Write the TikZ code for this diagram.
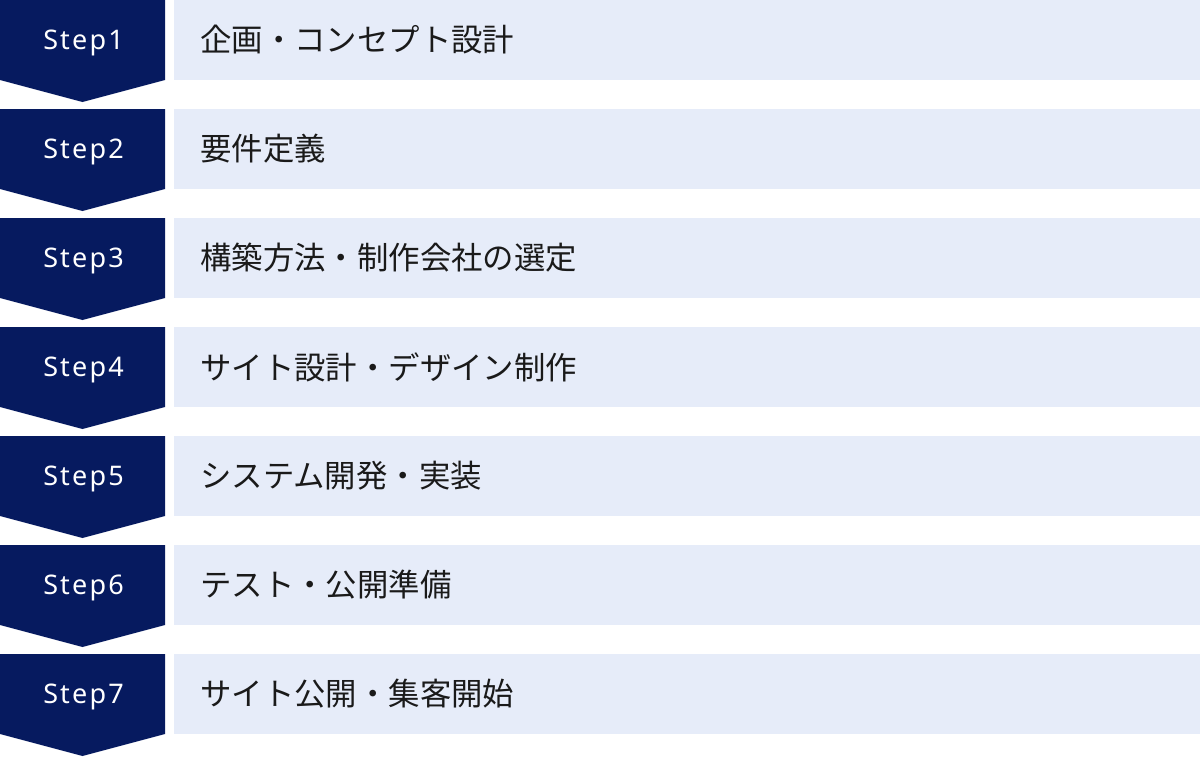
\documentclass[tikz,border=0pt]{standalone}
\usepackage{fontspec}
\newfontfamily\jpfont{Noto Sans CJK JP}
\newfontfamily\stepfont[LetterSpace=8]{Noto Sans}
\definecolor{navy}{HTML}{061A5F}
\definecolor{pale}{HTML}{E6ECF9}
\definecolor{ink}{HTML}{1A1A1A}
\tikzset{
  chev/.style={fill=navy, draw=none},
  band/.style={fill=pale, draw=none},
  steplabel/.style={text=white, font=\stepfont\fontsize{27}{30}\selectfont, inner sep=0pt, anchor=base},
  tasklabel/.style={text=ink, font=\jpfont\fontsize{31.4}{36}\selectfont, inner sep=0pt, anchor=west},
}
\begin{document}
\begin{tikzpicture}[x=1pt,y=-1pt]
\useasboundingbox (0,0) rectangle (1200,756);
\foreach \i/\t in {1/企画・コンセプト設計,2/要件定義,3/構築方法・制作会社の選定,4/サイト設計・デザイン制作,5/システム開発・実装,6/テスト・公開準備,7/サイト公開・集客開始}{
  \pgfmathsetmacro{\y}{109*(\i-1)}
  \fill[chev] (0,\y) -- (165,\y) -- (165,\y+80) -- (82.5,\y+102) -- (0,\y+80) -- cycle;
  \fill[band] (174,\y) rectangle (1200,\y+80);
  \node[steplabel] (s\i) at (83.5,\y+49.5) {Step\i};
  \node[tasklabel] (t\i) at (200,\y+40) {\t};
}
\end{tikzpicture}
\end{document}
